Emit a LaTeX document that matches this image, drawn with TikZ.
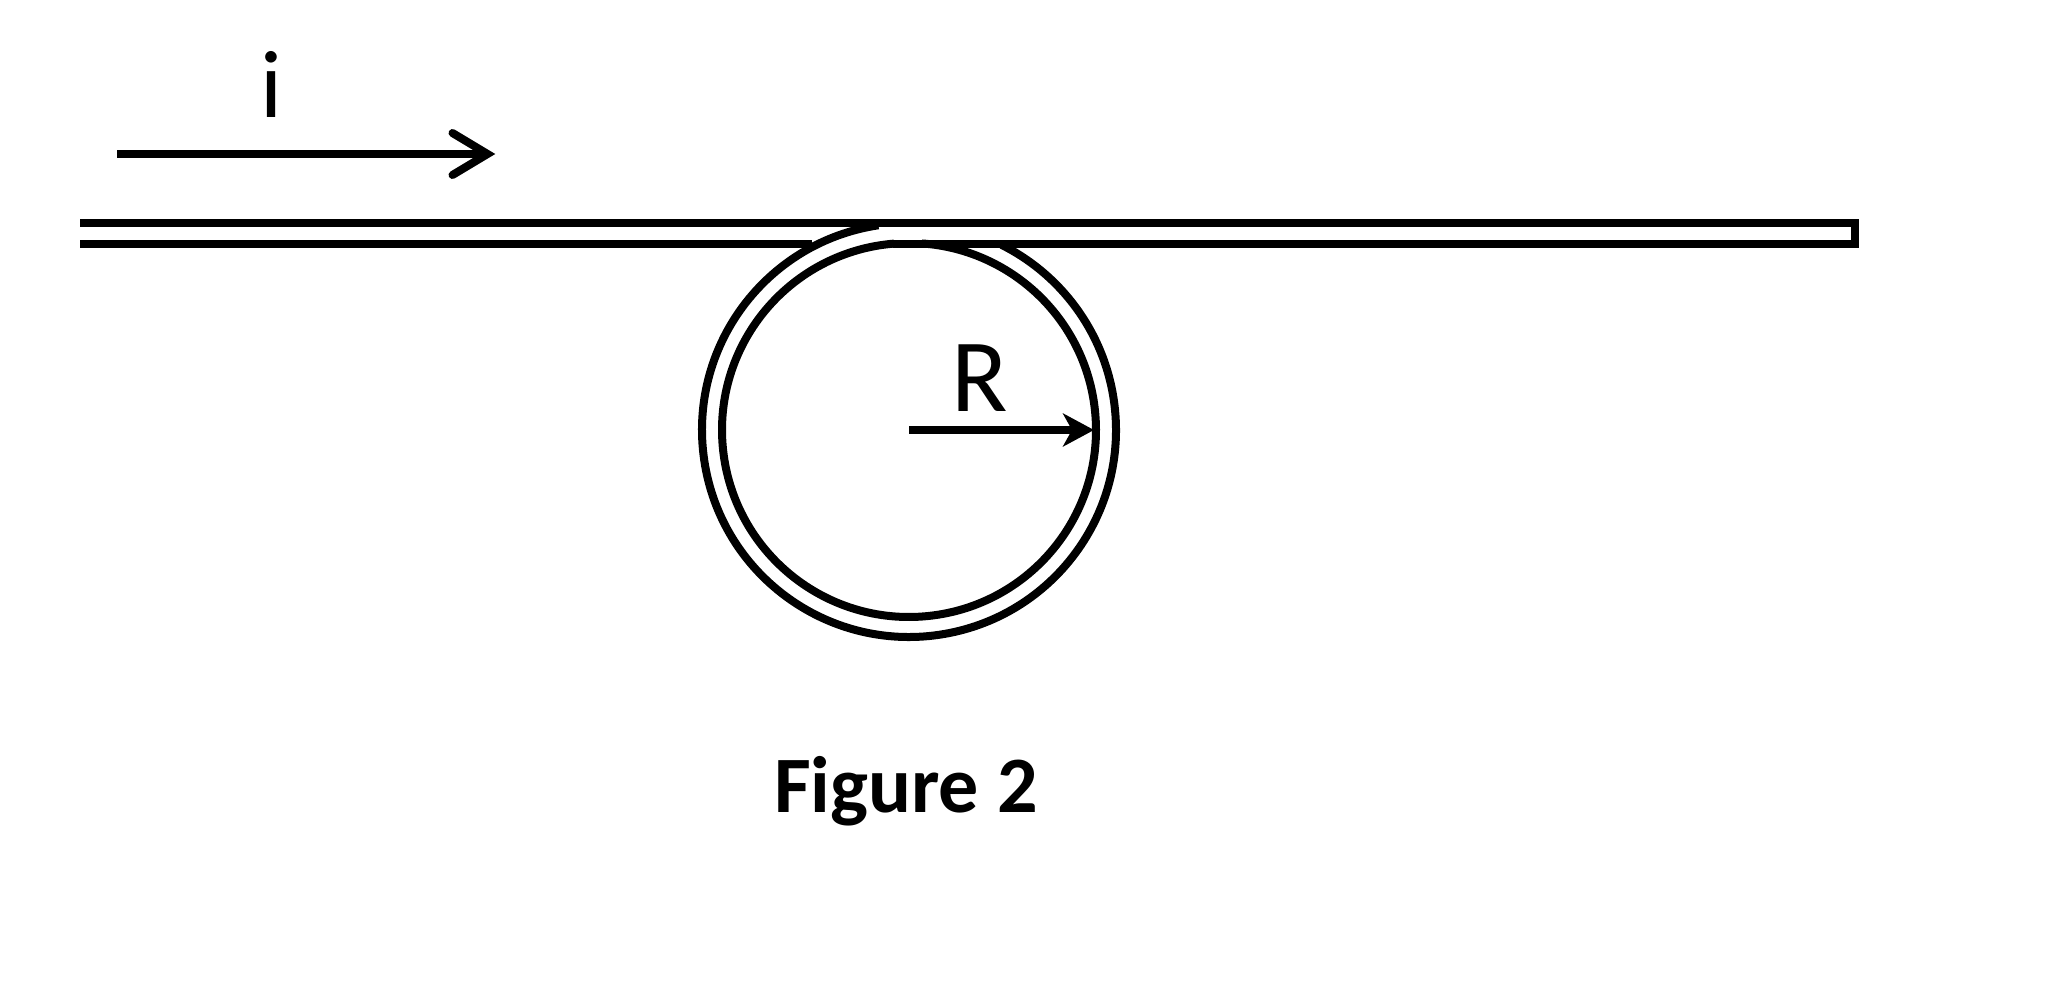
\documentclass[tikz,border=0pt]{standalone}
\usepackage{fontspec}
\setmainfont{Carlito}
\usetikzlibrary{arrows.meta}
\tikzset{
  wire/.style={line width=8pt,black,line join=miter},
  pointer/.style={line width=8pt,black},
  barb/.style={line width=8pt,black,line join=miter,line cap=round},
  lab/.style={inner sep=0pt,anchor=base,font=\fontsize{104}{104}\selectfont},
  smalllab/.style={inner sep=0pt,anchor=base,font=\fontsize{96}{96}\selectfont},
  figcaption/.style={inner sep=0pt,anchor=base,font=\fontsize{80}{80}\selectfont\bfseries}
}
\begin{document}
\begin{tikzpicture}[x=1pt,y=1pt]
\useasboundingbox (0,-995) rectangle (2046,0);
\fill[white] (0,-995) rectangle (2046,0);
% wire
\draw[wire] (80,-223) -- (1855,-223) -- (1855,-244.5) -- (893,-244.5);
\draw[wire] (80,-244.5) -- (812,-244.5);
% loop: outer and inner turns
\coordinate (c) at (909,-430);
\draw[wire] (c) ++(98.5:207) arc[start angle=98.5,end angle=423.4,radius=207];
\draw[wire] (c) ++(94.6:187) arc[start angle=94.6,end angle=446,radius=187];
% pointers
\coordinate (ia) at (117,-154);
\coordinate (ib) at (487.5,-154);
\coordinate (rb) at (1094,-430);
\draw[pointer] (ia) -- (ib);
\draw[barb] (ib) ++(-35,21) -- (ib) -- ++(-35,-21);
\draw[pointer,-{Stealth[length=31pt,width=33pt,inset=9pt]}] (c) -- (rb);
% labels
\node[smalllab] (il) at (272,-118) {i};
\node[lab] (rl) at (980,-411) {R};
\node[figcaption] (fig) at (906,-812) {Figure 2};
\end{tikzpicture}
\end{document}
